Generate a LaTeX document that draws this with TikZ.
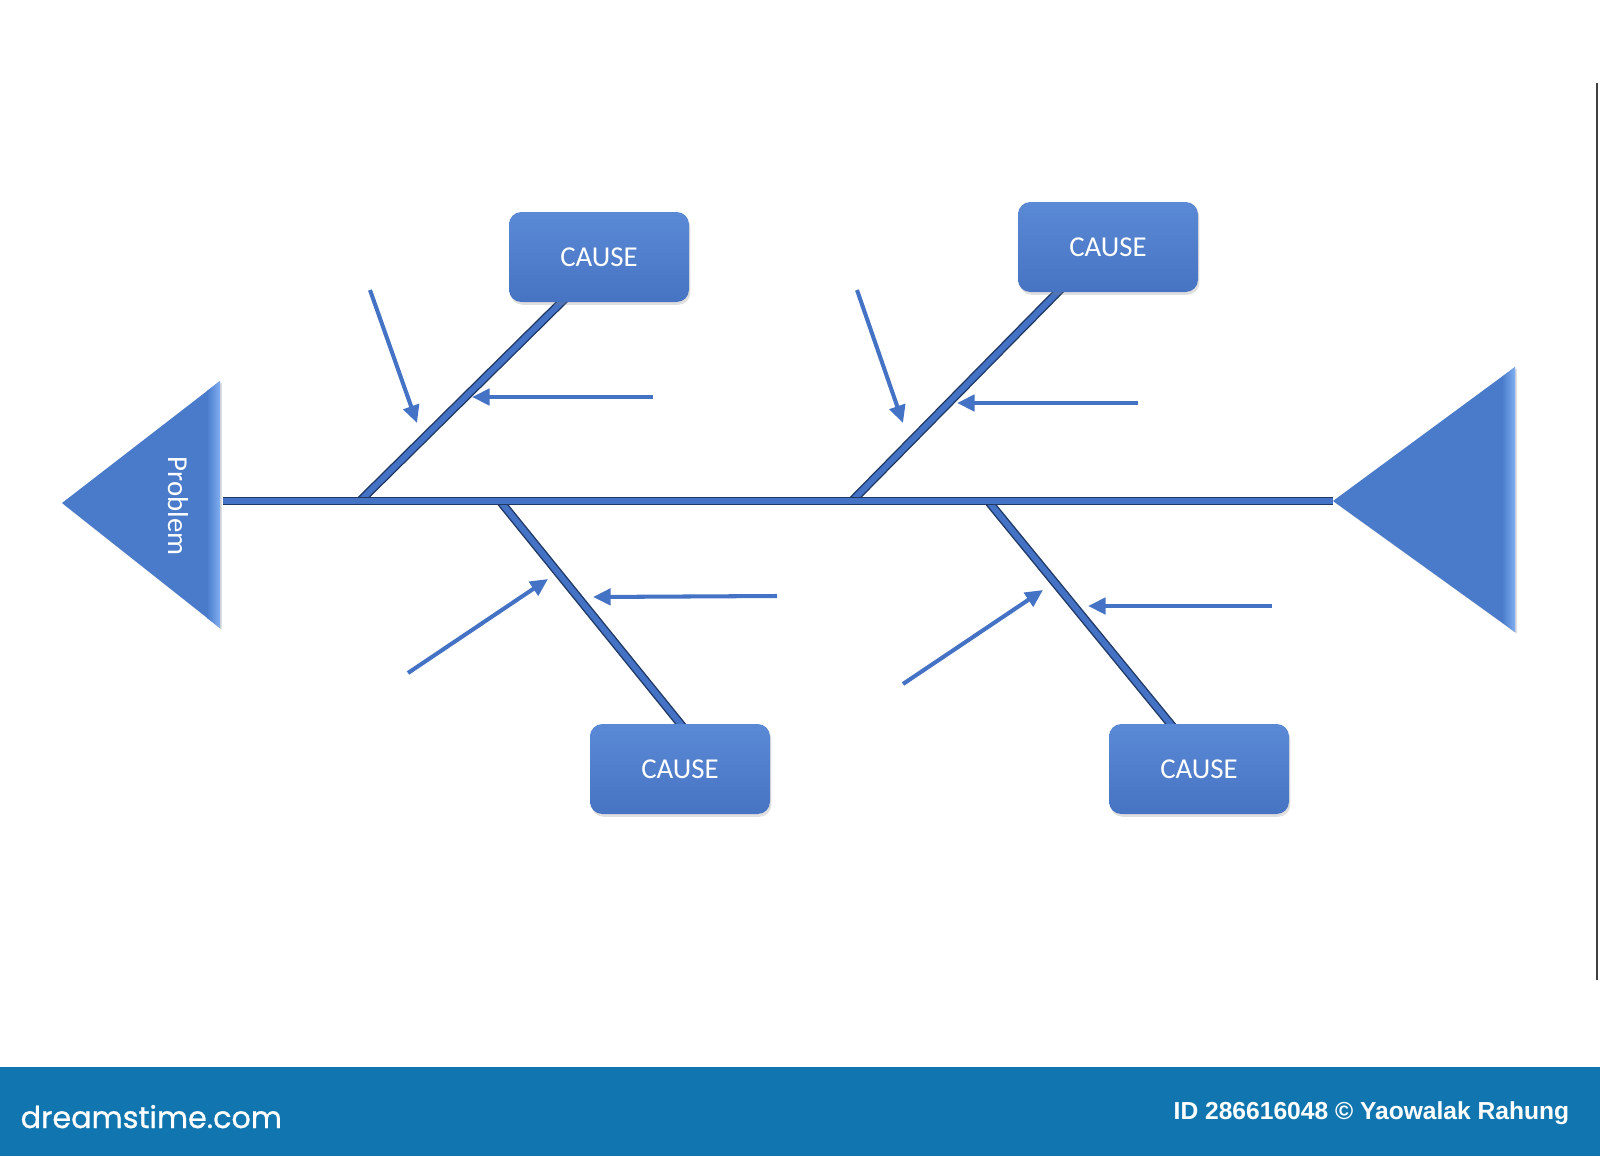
\documentclass[tikz,border=0pt]{standalone}
\usepackage{fontspec}
\setmainfont{Carlito}
\newfontfamily\logofont{Poppins}[FakeBold=0.8]
\newfontfamily\idfont{Liberation Sans}
\usetikzlibrary{arrows.meta, shadows, backgrounds, calc}

\definecolor{boneblue}{HTML}{4472C4}
\definecolor{boneedge}{HTML}{203864}
\definecolor{boxtop}{HTML}{5A89D6}
\definecolor{boxbottom}{HTML}{4774C2}
\definecolor{headblue}{HTML}{4A7BCB}
\definecolor{headlight}{HTML}{7FAEF0}
\definecolor{footerblue}{HTML}{1176B0}

\begin{document}
\begin{tikzpicture}[x=0.1mm, y=-0.1mm]
    \tikzset{
        cause/.style={rectangle, rounded corners=3.5pt, minimum width=18mm, minimum height=9mm,
            top color=boxtop, bottom color=boxbottom, text=white,
            font=\fontsize{8.2}{10}\selectfont,
            drop shadow={opacity=0.25, shadow xshift=0.4pt, shadow yshift=-0.8pt}},
        bone/.style={draw=boneedge, line width=0.4pt, double=boneblue, double distance=1.7pt},
        subcause/.style={color=boneblue, line width=1.15pt, -{Triangle[length=5pt, width=4.6pt]}},
        fishhead/.style={fill=headblue, drop shadow={opacity=0.25, shadow xshift=0.5pt, shadow yshift=-0.5pt}}
    }
    \useasboundingbox (0,0) rectangle (1600,1156);

    % HEAD (PROBLEM)
    \coordinate (headtip) at (62,503);
    \coordinate (headtop) at (220,381);
    \coordinate (headbot) at (220,628);
    \path[fishhead] (headtip) -- (headtop) -- (headbot) -- cycle;
    \shade[left color=headblue, right color=headlight] (207,391) -- (headtop) -- (headbot) -- (207,618) -- cycle;
    \node[text=white, rotate=-90, font=\fontsize{8.2}{10}\selectfont] (problem) at (178,506) {Problem};

    % SPINE
    \coordinate (spinestart) at (223,501);
    \coordinate (tailtip) at (1333,501);
    \coordinate (s1) at (360,501);
    \coordinate (s2) at (500,501);
    \coordinate (s3) at (852,501);
    \coordinate (s4) at (988,501);
    \draw[bone] (spinestart) -- (tailtip);

    % TAIL
    \coordinate (tailtop) at (1515,367);
    \coordinate (tailbot) at (1515,632);
    \path[fishhead] (tailtip) -- (tailtop) -- (tailbot) -- cycle;
    \shade[left color=headblue, right color=headlight] (1502,377) -- (tailtop) -- (tailbot) -- (1502,622) -- cycle;

    % CAUSES
    \node[cause] (c1) at (599,257) {CAUSE};
    \node[cause] (c2) at (680,769) {CAUSE};
    \node[cause] (c3) at (1108,247) {CAUSE};
    \node[cause] (c4) at (1199,769) {CAUSE};

    % BONES
    \begin{scope}[on background layer]
        \draw[bone, shorten >=-3pt] (s1) -- ($(c1.south west)!0.29!(c1.south east)$);
        \draw[bone, shorten >=-3pt] (s2) -- (c2.north);
        \draw[bone, shorten >=-3pt] (s3) -- ($(c3.south west)!0.22!(c3.south east)$);
        \draw[bone, shorten >=-3pt] (s4) -- ($(c4.north west)!0.34!(c4.north east)$);
    \end{scope}

    % SUB-CAUSE ARROWS
    \coordinate (a1) at (370,290);  \coordinate (t1) at (417,423);
    \coordinate (a2) at (653,397);  \coordinate (t2) at (472,397);
    \coordinate (a3) at (408,673);  \coordinate (t3) at (548,579);
    \coordinate (a4) at (777,596);  \coordinate (t4) at (593,597);
    \coordinate (a5) at (857,290);  \coordinate (t5) at (903,423);
    \coordinate (a6) at (1138,403); \coordinate (t6) at (957,403);
    \coordinate (a7) at (903,684);  \coordinate (t7) at (1043,590);
    \coordinate (a8) at (1272,606); \coordinate (t8) at (1088,606);
    \path[subcause]
        (a1) edge (t1)
        (a2) edge (t2)
        (a3) edge (t3)
        (a4) edge (t4)
        (a5) edge (t5)
        (a6) edge (t6)
        (a7) edge (t7)
        (a8) edge (t8);

    % EDGE LINE
    \coordinate (rimtop) at (1597,83);
    \coordinate (rimbot) at (1597,980);
    \draw[black!75, line width=0.35pt] (rimtop) -- (rimbot);

    % FOOTER
    \fill[footerblue] (0,1067) rectangle (1600,1156);
    \node[anchor=base west, inner sep=0pt, text=white, font=\logofont\fontsize{8.6}{10}\selectfont] (logo) at (20,1128) {dreamstime.com};
    \node[anchor=base west, inner sep=0pt, text=white, font=\idfont\bfseries\fontsize{7}{9}\selectfont] (credit) at (1173,1119) {ID 286616048 © Yaowalak Rahung};
\end{tikzpicture}
\end{document}
